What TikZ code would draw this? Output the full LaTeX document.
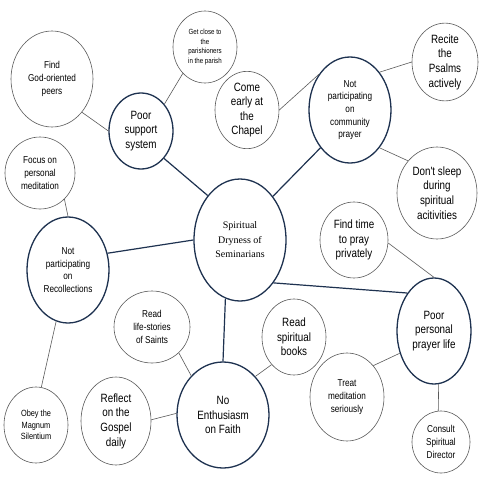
\documentclass[tikz,border=0pt]{standalone}
\usepackage{fontspec}
\setmainfont{Liberation Serif}
\newfontfamily\narrowsans[FakeStretch=0.82]{Liberation Sans}
\usetikzlibrary{shapes.geometric}

\definecolor{navy}{HTML}{1E3250}
\definecolor{bubgray}{HTML}{5A5A5A}

\tikzset{
    bubble/.style={ellipse, draw=bubgray, line width=0.6pt, inner sep=0pt, align=center, fill=white},
    mainbubble/.style={bubble, draw=navy, line width=1.3pt},
    sz/.style 2 args={minimum width=#1pt, minimum height=#2pt},
    fbig/.style={font=\narrowsans\fontsize{12pt}{14.6pt}\selectfont},
    fmid/.style={font=\narrowsans\fontsize{10pt}{12.7pt}\selectfont},
    fsml/.style={font=\narrowsans\fontsize{9pt}{11.7pt}\selectfont},
    ftiny/.style={font=\narrowsans\fontsize{7.5pt}{9.4pt}\selectfont},
    mainlink/.style={draw=navy, line width=1.2pt},
    sublink/.style={draw=bubgray, line width=0.6pt}
}

\begin{document}
\begin{tikzpicture}[x=1pt,y=-1pt]
    \useasboundingbox[fill=white] (0,0) rectangle (480,480);

    % centre
    \node[mainbubble, sz={92}{122}, font=\fontsize{10pt}{14.5pt}\selectfont] (ctr) at (240,240) {Spiritual\\Dryness of\\Seminarians};

    % main causes
    \node[mainbubble, fbig, sz={64}{76}] (pss) at (141,131) {Poor\\support\\system};
    \node[mainbubble, fmid, sz={82}{106}] (npc) at (350,110) {Not\\participating\\on\\community\\prayer};
    \node[mainbubble, fmid, sz={82}{106}] (npr) at (68,270) {Not\\participating\\on\\Recollections};
    \node[mainbubble, fbig, sz={74}{106}] (ppl) at (434,331) {Poor\\personal\\prayer life};
    \node[mainbubble, fbig, sz={92}{106}] (nef) at (223,415) {No\\Enthusiasm\\on Faith};

    % remedies
    \node[bubble, fmid, sz={82}{96}] (fgp) at (52,79) {Find\\God-oriented\\peers};
    \node[bubble, ftiny, sz={64}{72}] (gcp) at (205,47) {Get close to\\the\\parishioners\\in the parish};
    \node[bubble, fmid, sz={70}{72}] (fpm) at (40,173) {Focus on\\personal\\meditation};
    \node[bubble, fbig, sz={64}{74}] (cec) at (247,110) {Come\\early at\\the\\Chapel};
    \node[bubble, fbig, sz={66}{76}] (rpa) at (445,62) {Recite\\the\\Psalms\\actively};
    \node[bubble, fbig, sz={80}{92}] (dss) at (437,193) {Don't sleep\\during\\spiritual\\acitivities};
    \node[bubble, fbig, sz={68}{76}] (ftp) at (354,240) {Find time\\to pray\\privately};
    \node[bubble, fmid, sz={58}{62}] (csd) at (441,442) {Consult\\Spiritual\\Director};
    \node[bubble, fmid, sz={74}{88}] (tms) at (347,397) {Treat\\meditation\\seriously};
    \node[bubble, fbig, sz={64}{76}] (rsb) at (294,337) {Read\\spiritual\\books};
    \node[bubble, fmid, sz={76}{72}] (rls) at (152,327) {Read\\life-stories\\of Saints};
    \node[bubble, fbig, sz={70}{88}] (rgd) at (116,421) {Reflect\\on the\\Gospel\\daily};
    \node[bubble, fsml, sz={64}{76}] (oms) at (36,425) {Obey the\\Magnum\\Silentium};

    % links to the centre
    \draw[mainlink] (ctr.126) -- (pss.-50);
    \draw[mainlink] (ctr.53) -- (npc.-128);
    \draw[mainlink] (ctr.180) -- (npr.23);
    \draw[mainlink] (ctr.-52) -- (ppl.125);
    \draw[mainlink] (ctr.-104) -- (nef.90);

    % links to the remedies
    \draw[sublink] (fgp.-48) -- (pss.180);
    \draw[sublink] (pss.49) -- (gcp.-130);
    \draw[sublink] (cec.0) -- (npc.131);
    \draw[sublink] (npc.52) -- (rpa.180);
    \draw[sublink] (npc.-52) -- (dss.132);
    \draw[sublink] (fpm.-47) -- (npr.90);
    \draw[sublink] (npr.-103) -- (oms.82);
    \draw[sublink] (rls.-44) -- (nef.129);
    \draw[sublink] (rgd.2) -- (nef.178);
    \draw[sublink] (nef.50) -- (rsb.-129);
    \draw[sublink] (ftp.-5) -- (ppl.90);
    \draw[sublink] (tms.50) -- (ppl.213);
    \draw[sublink] (ppl.-85) -- (csd.95);
\end{tikzpicture}
\end{document}
